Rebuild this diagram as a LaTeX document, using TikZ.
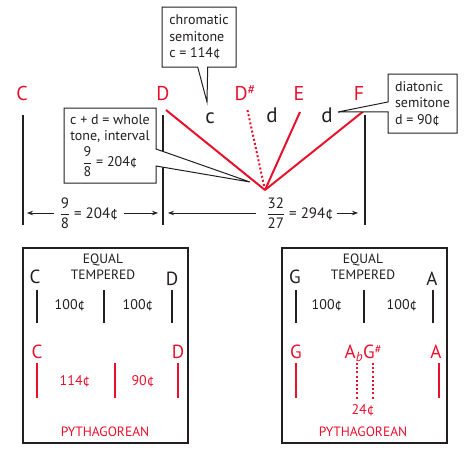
\documentclass[tikz,border=0pt]{standalone}
\usepackage{fontspec}
\setmainfont{PT Sans}
\usetikzlibrary{shapes.callouts, arrows.meta, positioning}
\definecolor{pyred}{HTML}{E8112D}
\definecolor{ink}{HTML}{231F20}
\newcommand{\pfrac}[2]{$\displaystyle\frac{\mbox{#1}}{\mbox{#2}}$}

\begin{document}
\begin{tikzpicture}[
    x=1pt, y=-1pt,
    notename/.style={text=pyred, font=\fontsize{20}{22}\selectfont, inner sep=0pt, anchor=base},
    semi/.style={text=ink, font=\fontsize{21}{22}\selectfont, inner sep=0pt, anchor=base},
    bubble/.style={rectangle callout, draw=ink, fill=white, line width=1pt, text=ink,
        font=\fontsize{14}{16.5}\selectfont, inner sep=3pt, callout pointer width=10pt},
    fret/.style={ink, line width=1.2pt},
    ray/.style={pyred, line width=2pt},
    dim/.style={ink, line width=0.8pt, -{Stealth[length=6pt, width=4.5pt]}},
    cents/.style={font=\fontsize{14}{16}\selectfont, text=ink, inner sep=0pt},
    caps/.style={font=\fontsize{13.5}{16}\selectfont, text=ink, align=center, inner sep=0pt},
    key/.style={font=\fontsize{19}{20}\selectfont, text=ink, inner sep=0pt, anchor=base},
    panel/.style={draw=ink, line width=1.2pt}
]
    \useasboundingbox (0,0) rectangle (474,455);

    % Top: Pythagorean whole tone and minor third
    \coordinate (apex) at (265,190);
    \coordinate (ctop) at (23,115);  \coordinate (cbot) at (23,225);
    \coordinate (dtop) at (163,115); \coordinate (dbot) at (163,225);
    \coordinate (ftop) at (365,115); \coordinate (fbot) at (365,225);
    \coordinate (dend) at (166,110);
    \coordinate (dsend) at (247,108);
    \coordinate (eend) at (300,112);
    \coordinate (fend) at (365,110);

    \draw[fret] (ctop) -- (cbot);
    \draw[fret] (dtop) -- (dbot);
    \draw[fret] (ftop) -- (fbot);

    \draw[ray] (apex) -- (dend);
    \draw[ray, dash pattern=on 2pt off 2.2pt] (apex) -- (dsend);
    \draw[ray] (apex) -- (eend);
    \draw[ray] (apex) -- (fend);

    \node[notename] (lblC) at (22,100) {C};
    \node[notename] (lblD) at (163,100) {D};
    \node[notename] (lblDs) at (245,100) {D\raisebox{0.55ex}{\fontsize{14}{14}\selectfont\#}};
    \node[notename] (lblE) at (299,100) {E};
    \node[notename] (lblF) at (359,100) {F};

    \node[semi] (semc) at (210,123) {c};
    \node[semi] (semd1) at (272,122) {d};
    \node[semi] (semd2) at (327,122) {d};

    % Callouts
    \coordinate (ctip) at (207,102);
    \coordinate (cdtip) at (250,182);
    \coordinate (dtip) at (338,112);
    \node[bubble, align=left, minimum width=74pt, minimum height=60pt,
        callout absolute pointer=(ctip)] (chroma) at (199,37)
        {chromatic\\semitone\\c = 114¢};
    \node[bubble, align=center, minimum width=92pt, minimum height=75pt,
        callout pointer width=17pt, callout absolute pointer=(cdtip)] (whole) at (110,145.5)
        {c + d = whole\\tone, interval\\[3pt]\pfrac{9}{8} = 204¢};
    \node[bubble, align=left, minimum width=69pt, minimum height=59pt,
        callout absolute pointer=(dtip)] (diat) at (422.5,103.5)
        {diatonic\\semitone\\d = 90¢};

    % Dimensions
    \node[cents, font=\fontsize{15}{17}\selectfont] (tone) at (89,213) {\pfrac{9}{8} = 204¢};
    \node[cents, font=\fontsize{15}{17}\selectfont] (third) at (300,213) {\pfrac{32}{27} = 294¢};
    \draw[dim] ([xshift=-5pt]tone.west) -- ([xshift=4pt]ctop |- tone);
    \draw[dim] ([xshift=5pt]tone.east) -- ([xshift=-5pt]dtop |- tone);
    \draw[dim] ([xshift=-10pt]third.west) -- ([xshift=5pt]dtop |- third);
    \draw[dim] ([xshift=3pt]third.east) -- ([xshift=-7pt]ftop |- third);

    % Bottom left: C to D
    \draw[panel] (23,248) rectangle (188,443);
    \node[caps] (eqA) at (103,267) {EQUAL\\TEMPERED};
    \node[key] (kC) at (35,283) {C};
    \node[key] (kD) at (172,285) {D};
    \foreach \x in {37,104,172}
        \draw[ink, line width=2.8pt] (\x,290) -- (\x,323);
    \node[cents] (etA1) at (70,305) {100¢};
    \node[cents] (etA2) at (138,305) {100¢};
    \node[key, text=pyred] (pC) at (37,358) {C};
    \node[key, text=pyred] (pD) at (178,358) {D};
    \foreach \x in {37,115,178}
        \draw[pyred, line width=2.4pt] (\x,363) -- (\x,398);
    \node[cents, text=pyred] (pyA1) at (75,381) {114¢};
    \node[cents, text=pyred] (pyA2) at (143,381) {90¢};
    \node[caps, text=pyred] (pyA) at (105,432) {PYTHAGOREAN};

    % Bottom right: G to A
    \draw[panel] (282,248) rectangle (447,443);
    \node[caps] (eqB) at (363,267) {EQUAL\\TEMPERED};
    \node[key] (kG) at (295,283) {G};
    \node[key] (kA) at (432,285) {A};
    \foreach \x in {296,364,433}
        \draw[ink, line width=2.8pt] (\x,290) -- (\x,323);
    \node[cents] (etB1) at (327,305) {100¢};
    \node[cents] (etB2) at (402,305) {100¢};
    \node[key, text=pyred] (pG) at (296,358) {G};
    \node[key, text=pyred] (pAG) at (363,358)
        {A\textsubscript{\itshape b}G\raisebox{0.5ex}{\fontsize{12}{12}\selectfont\#}};
    \node[key, text=pyred] (pA) at (436,358) {A};
    \foreach \x in {296,439}
        \draw[pyred, line width=2.4pt] (\x,363) -- (\x,398);
    \foreach \x in {357,373}
        \draw[pyred, line width=2pt, dash pattern=on 2pt off 2.2pt] (\x,363) -- (\x,400);
    \node[cents, text=pyred] (comma) at (363,410) {24¢};
    \node[caps, text=pyred] (pyB) at (363,432) {PYTHAGOREAN};
\end{tikzpicture}
\end{document}
